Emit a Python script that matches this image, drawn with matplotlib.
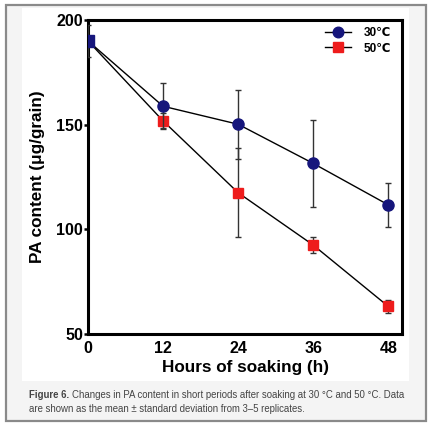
"""PA content vs soaking time at 30 and 50 degC."""
import matplotlib
matplotlib.use("Agg")
import matplotlib.pyplot as plt
import matplotlib.patches as patches

hours = [0, 12, 24, 36, 48]
pa_30 = [190, 158.8, 150.2, 131.5, 111.7]
sd_30 = [7.7, 11, 16.4, 20.8, 10.5]
pa_50 = [190, 151.8, 117.5, 92.5, 63.2]
sd_50 = [1.5, 3.6, 21.2, 3.7, 3.0]
series_labels = ["30\u2103", "50\u2103"]
x_ticks = [0, 12, 24, 36, 48]
y_ticks = [50, 100, 150, 200]

navy = "#16167c"
red = "#ee1c1c"

W, H = 429, 424
fig = plt.figure(figsize=(W / 100, H / 100), dpi=100)
fig.patch.set_facecolor("white")

# grey frame and white panel behind the chart
fig.patches.append(patches.Rectangle((5.5 / W, 1 - 420.5 / H), 420 / W, 416 / H,
                                     transform=fig.transFigure, facecolor="#f4f4f4",
                                     edgecolor="#8a8a8a", lw=1.6, zorder=-5))
fig.patches.append(patches.Rectangle((22 / W, 1 - 381 / H), 387 / W, 373 / H,
                                     transform=fig.transFigure, facecolor="white",
                                     edgecolor="none", zorder=-4))

ax = fig.add_axes([88 / W, 1 - 334 / H, 314 / W, 314 / H])
ax.patch.set_visible(False)

e50 = ax.errorbar(hours, pa_50, yerr=sd_50, color="black", ecolor="#333333", lw=1.0,
                  elinewidth=1.0, capsize=2.3, capthick=1.0, marker="s", ms=7.5,
                  mfc=red, mec=red, zorder=3)
e30 = ax.errorbar(hours, pa_30, yerr=sd_30, color="black", ecolor="#333333", lw=1.0,
                  elinewidth=1.0, capsize=2.3, capthick=1.0, marker="o", ms=8,
                  mfc=navy, mec=navy, zorder=4)
# first point drawn as a navy square, as in the original
ax.plot(hours[0], pa_30[0], "s", ms=8, color=navy, zorder=5)

ax.set_xlim(0, 50.2)
ax.set_ylim(50, 200)
ax.set_xticks(x_ticks)
ax.set_yticks(y_ticks)
for side in ["left", "bottom", "top", "right"]:
    ax.spines[side].set_linewidth(2.2)
ax.tick_params(axis="y", direction="out", length=3, width=1.8, pad=0.5)
ax.tick_params(axis="x", length=0, pad=5)
font = ["Liberation Sans", "DejaVu Sans"]
for lab in ax.get_xticklabels() + ax.get_yticklabels():
    lab.set_fontfamily(font)
    lab.set_fontweight("bold")
    lab.set_fontsize(11.5)

ax.set_xlabel("Hours of soaking (h)", fontfamily=font, fontweight="bold", fontsize=12.3, labelpad=3)
ax.set_ylabel("PA content (\u03bcg/grain)", fontfamily=font, fontweight="bold", fontsize=12.3, labelpad=8)

fig.legend([e30[0], e50[0]], series_labels, loc="upper right",
           bbox_to_anchor=(391 / W, 1 - 27 / H), borderpad=0, borderaxespad=0,
           frameon=False, prop={"family": font, "weight": "bold", "size": 8.5},
           handlelength=2.2, handletextpad=1.1, labelspacing=0.3, markerscale=0.95)

cap_style = dict(fontfamily=font, fontsize=6.9, color="#444444", va="center")
t1 = fig.text(29 / W, 1 - 395 / H, "Figure 6.", fontweight="bold", **cap_style)
fig.canvas.draw()
bb = t1.get_window_extent()
fig.text(bb.x1 / W + 2.5 / W, 1 - 395 / H,
         "Changes in PA content in short periods after soaking at 30 \u00b0C and 50 \u00b0C. Data",
         **cap_style)
fig.text(29 / W, 1 - 409.5 / H,
         "are shown as the mean \u00b1 standard deviation from 3\u20135 replicates.",
         **cap_style)

fig.savefig("out.png", dpi=100)
